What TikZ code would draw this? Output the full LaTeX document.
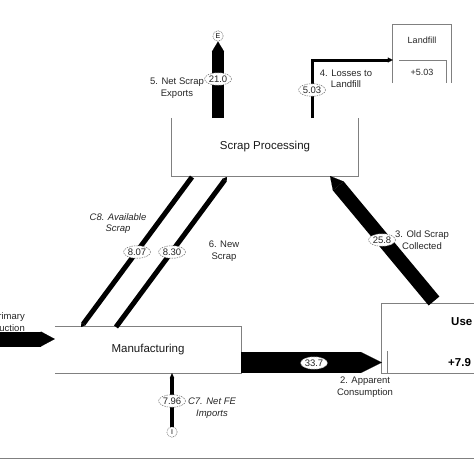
\documentclass[tikz,border=0pt]{standalone}
\usepackage{fontspec}
\setmainfont{Liberation Sans}
\usetikzlibrary{arrows.meta,shapes.geometric}
\begin{document}
\begin{tikzpicture}[x=1pt,y=-1pt,
  boxline/.style={draw=black!50, line width=0.9pt},
  lbl/.style={font=\fontsize{9.5}{11.5}\selectfont, align=center, text=black!85, inner sep=0pt},
  ilbl/.style={lbl, font=\fontsize{9.5}{11.5}\selectfont\itshape},
  val/.style={ellipse, draw=black!60, dash pattern=on 1.5pt off 1pt, line width=0.5pt, fill=white, inner sep=0.3pt, minimum height=12.5pt, font=\fontsize{9.5}{10}\selectfont, text=black!85},
  term/.style={circle, draw=black!60, dash pattern=on 1pt off 0.8pt, line width=0.5pt, fill=white, inner sep=0pt, minimum size=10.5pt, font=\fontsize{7}{7}\selectfont},
  title/.style={font=\fontsize{11.5}{13}\selectfont, inner sep=0pt, text=black!90},
  usetxt/.style={font=\fontsize{11.5}{13}\selectfont\bfseries, inner sep=0pt, anchor=west},
]
\useasboundingbox (0,0) rectangle (474,474);

% bottom rule
\coordinate (bl) at (0,458);
\coordinate (br) at (474,458);
\draw[boxline] (bl) -- (br);

% Scrap Processing
\node[title, minimum width=186pt, minimum height=58pt] (scrap) at (265,147) {Scrap Processing};
\draw[boxline] (scrap.north west) -- (scrap.south west) -- (scrap.south east) -- (scrap.north east);

% Landfill
\node[inner sep=0pt, minimum width=58pt, minimum height=58pt] (landfill) at (422,54) {};
\draw[boxline] (landfill.south west) -- (landfill.north west) -- (landfill.north east) -- (landfill.south east);
\coordinate (lfa) at (399,60);
\coordinate (lfb) at (446,60);
\coordinate (lfc) at (446,83);
\draw[boxline] (lfa) -- (lfb) -- (lfc);
\node[lbl, font=\fontsize{9}{10}\selectfont] (lftitle) at (422,40) {Landfill};
\node[lbl, font=\fontsize{9}{10}\selectfont] (lfval) at (422,72) {+5.03};

% Manufacturing
\node[title, minimum width=186pt, minimum height=46pt] (manu) at (148,350) {Manufacturing};
\draw[boxline] (manu.north west) -- (manu.north east) -- (manu.south east) -- (manu.south west);

% Use
\node[inner sep=0pt, minimum width=138pt, minimum height=69pt] (use) at (451,338.5) {};
\draw[boxline] (use.north east) -- (use.north west) -- (use.south west) -- (use.south east);
\coordinate (uia) at (387,351);
\coordinate (uib) at (387,373);
\draw[boxline, line width=0.6pt] (uia) -- (uib);
\node[usetxt] (usetitle) at (451,322) {Use};
\node[usetxt] (useval) at (448,363) {+7.9};

% 5. Net Scrap Exports
\node[term] (E) at (218,36) {E};
\coordinate (scrapE) at (218,118);
\draw[line width=12pt, -{Triangle[length=10pt,width=12pt,line width=0.1pt]}] (scrapE) -- (E.south);
\node[val] (v21) at (218,79) {21.0};
\node[lbl] (l5) at (177,88) {5. Net Scrap\\Exports};

% 4. Losses to Landfill
\coordinate (scrapL) at (312,118);
\coordinate (lbend) at (312,60);
\draw[line width=3pt, -{Triangle[length=5pt,width=5pt,line width=0.1pt]}] (scrapL) -- (lbend) -- (landfill.west |- lbend);
\node[val] (v503) at (312,90) {5.03};
\node[lbl] (l4) at (346,79) {4. Losses to\\Landfill};

% C8 Available scrap and 6 New scrap
\coordinate (c8top) at (192,177);
\coordinate (c8bot) at (81,327);
\coordinate (n6top) at (227,177);
\coordinate (n6bot) at (116,327);
\draw[line width=5pt, -{Triangle[length=4pt,width=5pt,line width=0.1pt]}] (c8top) -- (c8bot);
\draw[line width=5pt, -{Triangle[length=4pt,width=5pt,line width=0.1pt]}] (n6bot) -- (n6top);
\node[ilbl] (l8) at (118,223.5) {C8. Available\\Scrap};
\node[val] (v807) at (137,252) {8.07};
\node[val] (v830) at (172,252) {8.30};
\node[lbl] (l6) at (224,251) {6. New\\Scrap};

% 3. Old Scrap Collected
\coordinate (usetop) at (434,301);
\coordinate (oldtip) at (330,176);
\draw[line width=14pt, -{Triangle[length=13pt,width=14pt,line width=0.1pt]}] (usetop) -- (oldtip);
\node[val] (v258) at (382,240) {25.8};
\node[lbl] (l3) at (422,240) {3. Old Scrap\\Collected};

% 2. Apparent Consumption
\coordinate (appS) at (241,362.5);
\draw[line width=21pt, -{Triangle[length=21pt,width=21pt,line width=0.1pt]}] (appS) -- (use.west |- appS);
\node[val] (v337) at (314,363) {33.7};
\node[lbl] (l2) at (365,387) {2. Apparent\\Consumption};

% Primary Production (cropped at the left edge, as in the reference)
\coordinate (primS) at (-10,339);
\draw[line width=15pt, -{Triangle[length=14pt,width=15pt,line width=0.1pt]}] (primS) -- (manu.west |- primS);
\node[lbl, align=right, anchor=east] (lp) at (25,322) {Primary\\Production};

% C7 Net FE Imports
\node[term] (I) at (172,432) {I};
\draw[line width=4.5pt, -{Triangle[length=5pt,width=4.5pt,line width=0.1pt]}] (I.north) -- (I.north |- manu.south);
\node[val] (v796) at (172,401) {7.96};
\node[ilbl] (l7) at (212,408) {C7. Net FE\\Imports};
\end{tikzpicture}
\end{document}
